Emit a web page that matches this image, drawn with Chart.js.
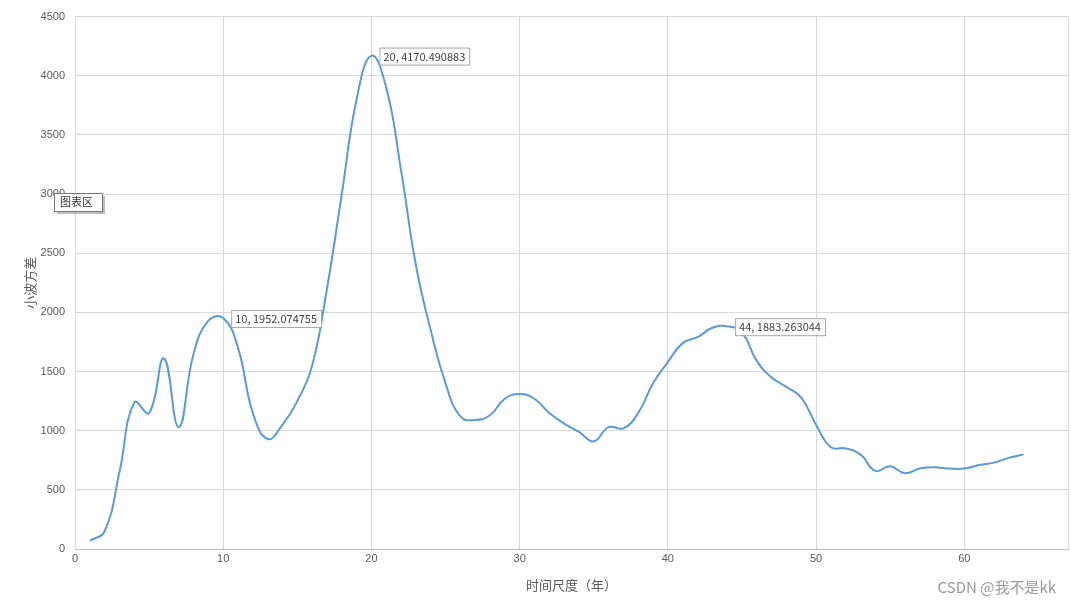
<!DOCTYPE html>
<html><head><meta charset="utf-8">
<script src="https://cdn.jsdelivr.net/npm/chart.js@4"></script>
<style>body{margin:0;background:#fff}#wrap{width:1071px;height:605px;position:relative}</style>
</head><body><div id="wrap"><canvas id="c"></canvas></div>
<script>
const years = [];
for (let i = 1; i <= 64; i++) years.push(i);
const variance = [70,150,650,1240,1150,1610,1030,1650,1930,1952.074755,1700,1150,930,1050,1250,1550,2200,3000,3800,4170.490883,
  3900,3200,2400,1850,1400,1120,1090,1130,1270,1310,1270,1150,1060,990,910,1030,1020,1150,1400,1580,
  1740,1790,1870,1883.263044,1830,1590,1450,1370,1280,1050,860,850,800,660,700,640,680,690,680,680,
  710,730,770,800];
const labeled = [10, 20, 44];

const callouts = {
  id: 'callouts',
  afterDatasetsDraw(chart) {
    const {ctx} = chart;
    const meta = chart.getDatasetMeta(0);
    ctx.save();
    ctx.font = '11px "Noto Sans CJK SC", sans-serif';
    ctx.textBaseline = 'middle';
    labeled.forEach(x => {
      const i = years.indexOf(x);
      const p = meta.data[i];
      const t = x + ', ' + variance[i];
      const w = ctx.measureText(t).width + 8;
      const bx = p.x + 8, by = p.y - 8;
      ctx.fillStyle = '#fff'; ctx.strokeStyle = '#a6a6a6';
      ctx.fillRect(bx, by, w, 17); ctx.strokeRect(bx + .5, by + .5, w, 17);
      ctx.fillStyle = '#404040'; ctx.fillText(t, bx + 4, by + 9);
    });
    // 图表区 hint
    ctx.fillStyle = 'rgba(0,0,0,0.25)'; ctx.fillRect(57, 196, 48, 18);
    ctx.fillStyle = '#fff'; ctx.strokeStyle = '#767676';
    ctx.fillRect(54, 193, 48, 18); ctx.strokeRect(54.5, 193.5, 48, 18);
    ctx.fillStyle = '#333'; ctx.fillText('图表区', 60, 202);
    // watermark
    ctx.font = '15px "Noto Sans CJK SC", sans-serif';
    ctx.fillStyle = '#9a9a9a'; ctx.textAlign = 'right';
    ctx.fillText('CSDN @我不是kk', 1056, 587);
    ctx.restore();
  }
};

new Chart(document.getElementById('c'), {
  type: 'line',
  data: { labels: years, datasets: [{ data: years.map((x, i) => ({x, y: variance[i]})),
    borderColor: '#5b9bd5', borderWidth: 2, pointRadius: 0, tension: 0.45, fill: false }] },
  options: {
    responsive: true, maintainAspectRatio: false, animation: false,
    layout: { padding: { top: 4, right: 1, left: 22, bottom: 12 } },
    plugins: { legend: { display: false }, tooltip: { enabled: false } },
    scales: {
      x: { type: 'linear', min: 0, max: 67,
        ticks: { stepSize: 10, color: '#595959', font: { size: 11 }, callback: v => v <= 60 ? String(v) : '' },
        grid: { color: '#d9d9d9', drawTicks: false }, border: { color: '#bfbfbf' },
        title: { display: true, text: '时间尺度（年）', color: '#595959', padding: 0, font: { size: 13, family: '"Noto Sans CJK SC"' } },
        afterFit: s => { s.height = 44; } },
      y: { min: 0, max: 4500,
        ticks: { stepSize: 500, color: '#595959', font: { size: 11 }, padding: 10, callback: v => String(v) },
        grid: { color: '#d9d9d9', drawTicks: false }, border: { display: false },
        title: { display: true, text: '小波方差', color: '#595959', padding: 0, font: { size: 13, family: '"Noto Sans CJK SC"' } },
        afterFit: s => { s.width = 53; } }
    }
  },
  plugins: [callouts]
});
</script></body></html>
